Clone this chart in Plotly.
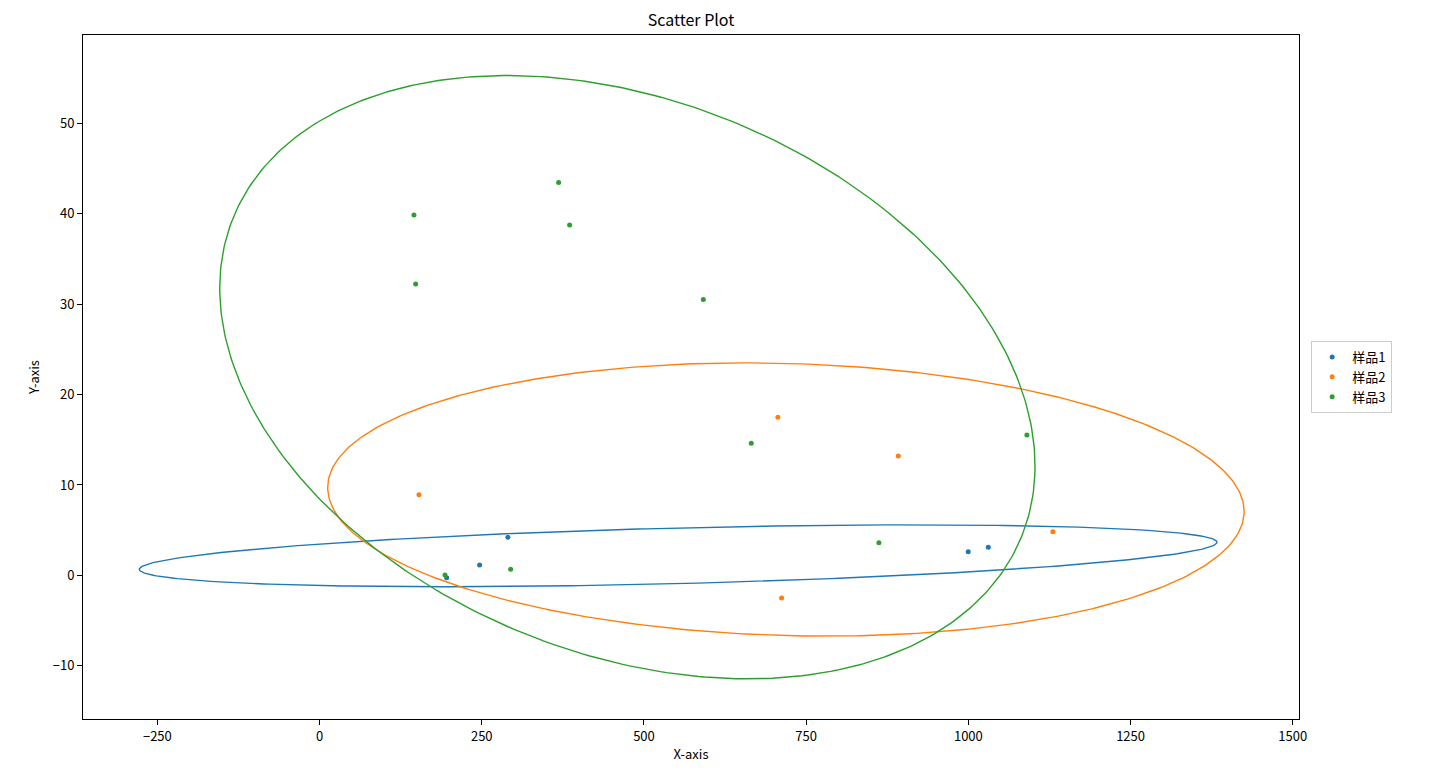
import numpy as np
import plotly.graph_objects as go

# 三組樣品的散點資料
sample_names = ["样品1", "样品2", "样品3"]
sample_colors = ["#1f77b4", "#ff7f0e", "#2ca02c"]

sample1_x = [195.9, 246.7, 290.3, 999.8, 1030.7]
sample1_y = [-0.26, 1.14, 4.21, 2.62, 3.10]

sample2_x = [153.2, 706.4, 892.0, 712.1, 1130.2]
sample2_y = [8.93, 17.50, 13.21, -2.51, 4.83]

sample3_x = [368.5, 145.5, 385.4, 148.1, 193.3, 294.5, 591.5, 665.4, 862.1, 1090.2]
sample3_y = [43.48, 39.87, 38.76, 32.23, 0.03, 0.66, 30.52, 14.62, 3.61, 15.54]

x_ticks = [-250, 0, 250, 500, 750, 1000, 1250, 1500]
y_ticks = [-10, 0, 10, 20, 30, 40, 50]

FONT = "Noto Sans CJK SC"


def confidence_ellipse(x, y, n_std=1.96, n_points=400):
    """依共變異數矩陣計算信賴橢圓的外框座標。"""
    x = np.asarray(x, dtype=float)
    y = np.asarray(y, dtype=float)
    cov = np.cov(x, y)
    pearson = cov[0, 1] / np.sqrt(cov[0, 0] * cov[1, 1])
    radius_x = np.sqrt(1 + pearson)
    radius_y = np.sqrt(1 - pearson)
    t = np.linspace(0, 2 * np.pi, n_points)
    u = radius_x * np.cos(t)
    v = radius_y * np.sin(t)
    # 旋轉 45 度後再依標準差縮放並平移到平均值
    rot_x = (u - v) / np.sqrt(2)
    rot_y = (u + v) / np.sqrt(2)
    ex = x.mean() + rot_x * np.sqrt(cov[0, 0]) * n_std
    ey = y.mean() + rot_y * np.sqrt(cov[1, 1]) * n_std
    return ex, ey


samples = [
    (sample1_x, sample1_y),
    (sample2_x, sample2_y),
    (sample3_x, sample3_y),
]

fig = go.Figure()

for name, color, (xs, ys) in zip(sample_names, sample_colors, samples):
    fig.add_trace(
        go.Scatter(
            x=xs,
            y=ys,
            mode="markers",
            name=name,
            marker={"color": color, "size": 5},
        )
    )

for name, color, (xs, ys) in zip(sample_names, sample_colors, samples):
    ex, ey = confidence_ellipse(xs, ys)
    fig.add_trace(
        go.Scatter(
            x=ex,
            y=ey,
            mode="lines",
            line={"color": color, "width": 1.4},
            showlegend=False,
            hoverinfo="skip",
        )
    )

axis_common = dict(
    showline=True,
    linecolor="black",
    linewidth=1,
    mirror=True,
    ticks="outside",
    ticklen=5,
    tickcolor="black",
    showgrid=False,
    zeroline=False,
    tickfont={"family": FONT, "size": 13, "color": "black"},
)

# 頁面 body 預設有 8px 外距，因此圖寬高各少 8px
fig.update_layout(
    width=1432,
    height=763,
    paper_bgcolor="white",
    plot_bgcolor="white",
    margin={"l": 75, "r": 141, "t": 27, "b": 52},
    font={"family": FONT, "size": 13, "color": "black"},
    title={
        "text": "Scatter Plot",
        "x": 0.5,
        "xref": "paper",
        "xanchor": "center",
        "y": 1 - 12 / 763,
        "yref": "container",
        "yanchor": "middle",
        "font": {"family": FONT, "size": 16, "color": "black"},
    },
    xaxis=dict(
        axis_common,
        range=[-364.6, 1509.6],
        tickvals=x_ticks,
        title={"text": "X-axis", "font": {"family": FONT, "size": 13}, "standoff": 6},
    ),
    yaxis=dict(
        axis_common,
        range=[-15.9, 59.8],
        tickvals=y_ticks,
        title={"text": "Y-axis", "font": {"family": FONT, "size": 13}, "standoff": 10},
    ),
    legend={
        "x": 1.01,
        "xanchor": "left",
        "y": 0.5,
        "yanchor": "middle",
        "bordercolor": "#cccccc",
        "borderwidth": 1,
        "font": {"family": FONT, "size": 13},
        "tracegroupgap": 0,
    },
    showlegend=True,
)

fig.write_html("out.html")
